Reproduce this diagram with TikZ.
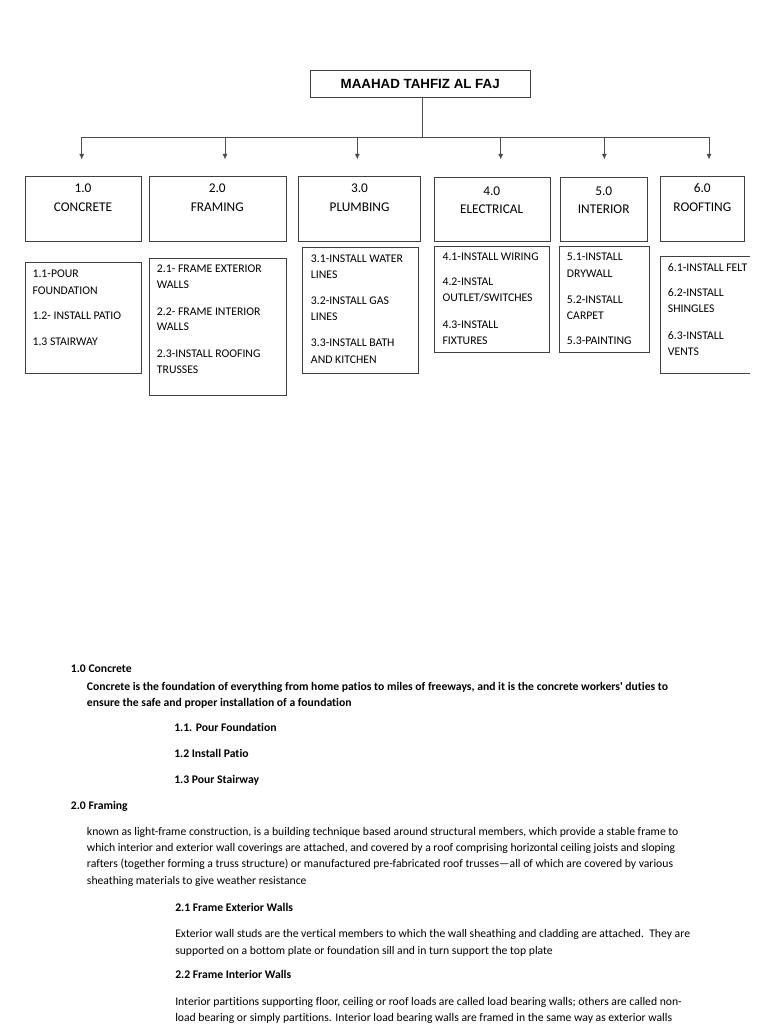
\documentclass[tikz,border=0pt]{standalone}
\usepackage{fontspec}
\setmainfont{Carlito}[Ligatures={NoCommon}]
\newfontfamily\titlefont{Liberation Sans}
\usetikzlibrary{arrows.meta,fit}
\begin{document}
\begin{tikzpicture}[x=0.75pt,y=-0.75pt,
  box/.style={draw=black!75, line width=0.7pt, inner sep=0pt},
  bus/.style={draw=black!70, line width=0.7pt},
  arr/.style={bus, -{Latex[length=4.2pt,width=3.8pt]}},
  hd/.style={font=\fontsize{10}{12}\selectfont, anchor=base, inner sep=0pt},
  it/.style={font=\fontsize{8.8}{10}\selectfont, anchor=base west, inner sep=0pt},
  bd/.style={font=\fontsize{8.75}{10}\selectfont\bfseries, anchor=base west, inner sep=0pt},
  tx/.style={font=\fontsize{8.75}{10}\selectfont, anchor=base west, inner sep=0pt}]
\fill[white] (0,0) rectangle (768,1024);
\useasboundingbox (0,0) rectangle (768,1024);

% title
\node[box, minimum width=164.8pt, minimum height=20.3pt,
      font=\titlefont\fontsize{10}{11}\selectfont\bfseries] (title) at (420.2,84.2) {MAAHAD TAHFIZ AL FAJ};

% bus
\coordinate (busm) at (422.3,137.3);
\coordinate (busl) at (81.7,137.3);
\coordinate (busr) at (709,137.3);
\draw[bus] (title.south -| busm) -- (busm);
\draw[bus] (busl) -- (busr);
\foreach \i/\x in {1/81.7,2/225,3/357.3,4/500.7,5/604.3,6/709}{
  \coordinate (a\i) at (\x,159.5);
  \draw[arr] (a\i |- busm) -- (a\i);
}

% level 1 boxes
\foreach \n/\xa/\ya/\xb/\yb in {c1/25/176/141.5/241, c2/149/176/286.5/241, c3/298/176/420/241,
                              c4/434/177/550/241, c5/560/177.5/647/241, c6/660/176/744.5/241}{
  \coordinate (\n a) at (\xa,\ya); \coordinate (\n b) at (\xb,\yb);
  \node[box, fit=(\n a)(\n b)] (\n) {};
}
\node[hd] (n1) at (83,192.3) {1.0};   \node[hd] (t1) at (83,211.3) {CONCRETE};
\node[hd] (n2) at (217.3,192.3) {2.0}; \node[hd] (t2) at (217.3,211.3) {FRAMING};
\node[hd] (n3) at (359.5,192.3) {3.0}; \node[hd] (t3) at (359.5,211.3) {PLUMBING};
\node[hd] (n4) at (491.7,195) {4.0};  \node[hd] (t4) at (491.7,213.3) {ELECTRICAL};
\node[hd] (n5) at (603.7,195) {5.0};  \node[hd] (t5) at (603.7,213.3) {INTERIOR};
\node[hd] (n6) at (702.3,192.3) {6.0}; \node[hd] (t6) at (702.3,211.3) {ROOFTING};

% level 2 boxes
\foreach \n/\xa/\ya/\xb/\yb in {s1/25/262.7/141.5/373, s2/149/258.3/286.5/395.3, s3/302.3/247.3/418.3/373,
                              s4/434.3/246/549.7/352.3, s5/559.7/246.7/649/352.3}{
  \coordinate (\n a) at (\xa,\ya); \coordinate (\n b) at (\xb,\yb);
  \node[box, fit=(\n a)(\n b)] (\n) {};
}
\draw[draw=black!75, line width=0.7pt] (750,256.7) -- (660.3,256.7) -- (660.3,373) -- (750,373);

\node[it] (i11) at (32.3,277.7) {1.1-POUR};
\node[it] (i12) at (32.3,294.7) {FOUNDATION};
\node[it] (i13) at (32.3,319.7) {1.2- INSTALL PATIO};
\node[it] (i14) at (32.3,345.7) {1.3 STAIRWAY};

\node[it] (i21) at (156.7,272.7) {2.1- FRAME EXTERIOR};
\node[it] (i22) at (156.7,288.7) {WALLS};
\node[it] (i23) at (156.7,315.7) {2.2- FRAME INTERIOR};
\node[it] (i24) at (156.7,330.7) {WALLS};
\node[it] (i25) at (156.7,357.7) {2.3-INSTALL ROOFING};
\node[it] (i26) at (156.7,373.7) {TRUSSES};

\node[it] (i31) at (310.7,262.7) {3.1-INSTALL WATER};
\node[it] (i32) at (310.7,278.7) {LINES};
\node[it] (i33) at (310.7,304.7) {3.2-INSTALL GAS};
\node[it] (i34) at (310.7,320.7) {LINES};
\node[it] (i35) at (310.7,346.7) {3.3-INSTALL BATH};
\node[it] (i36) at (310.7,363.7) {AND KITCHEN};

\node[it] (i41) at (442.3,260.3) {4.1-INSTALL WIRING};
\node[it] (i42) at (442.3,285.7) {4.2-INSTAL};
\node[it] (i43) at (442.3,301.7) {OUTLET/SWITCHES};
\node[it] (i44) at (442.3,328.3) {4.3-INSTALL};
\node[it] (i45) at (442.3,344.7) {FIXTURES};

\node[it] (i51) at (566.7,260.7) {5.1-INSTALL};
\node[it] (i52) at (566.7,277.7) {DRYWALL};
\node[it] (i53) at (566.7,303.7) {5.2-INSTALL};
\node[it] (i54) at (566.7,319.7) {CARPET};
\node[it] (i55) at (566.7,344.7) {5.3-PAINTING};

\node[it] (i61) at (667.7,271.7) {6.1-INSTALL FELT};
\node[it] (i62) at (667.7,296.7) {6.2-INSTALL};
\node[it] (i63) at (667.7,312.7) {SHINGLES};
\node[it] (i64) at (667.7,339.7) {6.3-INSTALL};
\node[it] (i65) at (667.7,355.7) {VENTS};

% body text
\node[bd] (p1) at (70.7,672.5) {1.0 Concrete};
\node[bd] (p2) at (86.7,690.5) {Concrete is the foundation of everything from home patios to miles of freeways, and it is the concrete workers\textquotesingle{} duties to};
\node[bd] (p3) at (86.7,706.5) {ensure the safe and proper installation of a foundation};
\node[bd] (p4) at (174,731.5) {1.1. Pour Foundation};
\node[bd] (p5) at (174,757.5) {1.2 Install Patio};
\node[bd] (p6) at (174,783.5) {1.3 Pour Stairway};
\node[bd] (p7) at (70.7,809.5) {2.0 Framing};
\node[tx] (p8) at (86.7,835.5) {known as light-frame construction, is a building technique based around structural members, which provide a stable frame to};
\node[tx] (p9) at (86.7,851.5) {which interior and exterior wall coverings are attached, and covered by a roof comprising horizontal ceiling joists and sloping};
\node[tx] (p10) at (86.7,867.5) {rafters (together forming a truss structure) or manufactured pre-fabricated roof trusses—all of which are covered by various};
\node[tx] (p11) at (86.7,884.5) {sheathing materials to give weather resistance};
\node[bd] (p12) at (175,911.5) {2.1 Frame Exterior Walls};
\node[tx] (p13) at (175,937.5) {Exterior wall studs are the vertical members to which the wall sheathing and cladding are attached.\ \ They are};
\node[tx] (p14) at (175,954.5) {supported on a bottom plate or foundation sill and in turn support the top plate};
\node[bd] (p15) at (175,978.5) {2.2 Frame Interior Walls};
\node[tx] (p16) at (175,1005.5) {Interior partitions supporting floor, ceiling or roof loads are called load bearing walls; others are called non-};
\node[tx] (p17) at (175,1021.5) {load bearing or simply partitions. Interior load bearing walls are framed in the same way as exterior walls};
\end{tikzpicture}
\end{document}
